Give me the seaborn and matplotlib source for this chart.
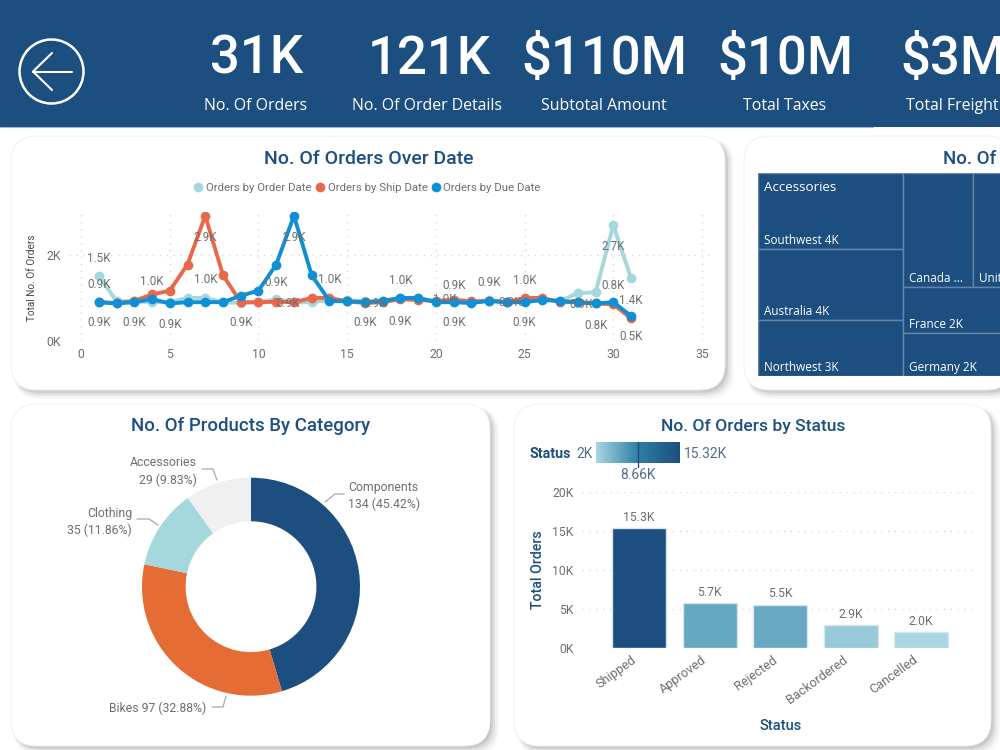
import numpy as np
import pandas as pd
import seaborn as sns
import matplotlib.pyplot as plt
from matplotlib.colors import LinearSegmentedColormap, Normalize
from matplotlib.lines import Line2D
from matplotlib.patches import FancyBboxPatch, Rectangle, Circle
from matplotlib.transforms import ScaledTranslation

NAVY = "#1c4f80"
GREY = "#6e6e6e"
W, H = 1000, 750

# kpi header
kpi_values = ["31K", "121K", "$110M", "$10M", "$3M"]
kpi_names = ["No. Of Orders", "No. Of Order Details", "Subtotal Amount", "Total Taxes", "Total Freight"]

# orders over date, in thousands
days = list(range(1, 32))
orders_by_order = [1.52, .92, .92, .90, .90, 1.00, 1.00, .90, .88, .90, .97, .90, .90, .95, .95, .92,
                   .92, 1.00, 1.00, .92, .90, .90, .95, .90, .92, .98, .93, 1.11, 1.13, 2.70, 1.46]
orders_by_ship = [.90, .88, .93, 1.08, 1.17, 1.78, 2.92, 1.53, .90, .90, .91, .90, 1.00, 1.00, .92, .88,
                  .90, .97, .95, .93, .96, .92, .93, .90, 1.00, 1.00, .90, .90, .87, .85, .52]
orders_by_due = [.90, .87, .90, .97, .87, .90, .90, .90, 1.05, 1.17, 1.78, 2.92, 1.53, .93, .92, .90,
                 .93, 1.00, 1.00, .90, .90, .88, .93, .90, .90, .95, .93, .90, .87, .90, .58]
series_names = ["Orders by Order Date", "Orders by Ship Date", "Orders by Due Date"]
series_colors = ["#a4d8dc", "#e8694a", "#0f8fd6"]

# data labels of the line chart
label_x = [1, 1, 1, 3, 4, 5, 7, 7, 9, 12, 11, 14, 11.67, 16, 16.6, 18, 18, 21, 20.5, 21, 23, 24.2, 25, 25,
           30, 30, 28.2, 29, 31, 31]
label_y = [1.93, 1.32, .42, .42, 1.38, .37, 2.42, 1.42, .42, 2.42, 1.37, 1.42, .88, .42, .88, 1.40, .46,
           1.30, .97, .42, 1.37, .90, 1.40, .42, 2.19, 1.28, .85, .35, .95, .09]
label_text = ["1.5K", "0.9K", "0.9K", "0.9K", "1.0K", "0.9K", "2.9K", "1.0K", "0.9K", "2.9K", "0.9K", "1.0K",
              "0.9K", "0.9K", "0.9K", "1.0K", "0.9K", "0.9K", "1.0K", "0.9K", "0.9K", "0.9K", "1.0K", "0.9K",
              "2.7K", "0.8K", "0.9K", "0.8K", "1.4K", "0.5K"]

# treemap, in thousands
tree_left_names = ["Southwest 4K", "Australia 4K", "Northwest 3K"]
tree_left_values = [3.88, 3.61, 2.85]
tree_top_names = ["Canada ...", "United Kingdom 3K"]
tree_top_values = [2.78, 2.70]
tree_low_names = ["France 2K", "Germany 2K"]
tree_low_values = [2.19, 2.08]

# products by category
categories = ["Components", "Bikes", "Clothing", "Accessories"]
products = [134, 97, 35, 29]
category_colors = [NAVY, "#e66c35", "#a5d8dc", "#f0f0f0"]

# orders by status, in thousands
statuses = ["Shipped", "Approved", "Rejected", "Backordered", "Cancelled"]
status_orders = [15.32, 5.7, 5.5, 2.9, 2.0]
status_labels = ["15.3K", "5.7K", "5.5K", "2.9K", "2.0K"]
status_mid = 8.66

sns.set_theme(style="white")
plt.rcParams["font.family"] = ["Roboto", "DejaVu Sans"]


def axes_px(fig, left, top, right, bottom):
    # axes from pixel edges, y counted from the top of the picture
    return fig.add_axes([left / W, 1 - bottom / H, (right - left) / W, (bottom - top) / H])


def card(ax, left, top, right, bottom):
    # soft shadow to the lower right, then the white card
    for grow, alpha in [(9, .04), (7, .06), (5, .09), (3, .13), (1, .18)]:
        ax.add_patch(FancyBboxPatch((left + 3, top + 3), right - left + grow - 3, bottom - top + grow - 3,
                                    boxstyle="round,pad=0,rounding_size=26", fc="#555555", ec="none", alpha=alpha))
    ax.add_patch(FancyBboxPatch((left, top), right - left, bottom - top,
                                boxstyle="round,pad=0,rounding_size=26", fc="white", ec="#f2f2f2", lw=.8))


def style_axes(ax):
    sns.despine(ax=ax, left=True, bottom=True)
    ax.tick_params(length=0, labelsize=8.8, labelcolor=GREY)
    ax.set_facecolor("none")


fig = plt.figure(figsize=(W / 100, H / 100), dpi=100, facecolor="white")

# page background in pixel coordinates
bg = fig.add_axes([0, 0, 1, 1])
bg.set_xlim(0, W)
bg.set_ylim(H, 0)
bg.axis("off")
bg.add_patch(Rectangle((0, 0), W, 127, fc=NAVY, ec="none"))
bg.plot([0, 873], [127.3, 127.3], color="#9db6d4", lw=.8)
card(bg, 11, 136, 725, 390)
card(bg, 744, 136, 1012, 390)
card(bg, 11, 404, 490, 746)
card(bg, 514, 404, 991, 746)

# back button
bg.add_patch(Circle((51.5, 71.5), 32, fc="none", ec="white", lw=1.8))
bg.plot([72, 33], [71.5, 71.5], color="white", lw=1.5)
bg.plot([52, 33, 52], [53, 71.5, 90], color="white", lw=1.5)

# kpi cards
kpi_x = [256, 429, 604, 785, 900]
name_x = [256, 427, 604, 785, 906]
for i in range(5):
    ha = "left" if i == 4 else "center"
    bg.text(kpi_x[i], 59, kpi_values[i], color="white", fontsize=38, weight="medium", ha=ha, va="center")
    bg.text(name_x[i], 106, kpi_names[i], color="white", fontsize=11.4, ha=ha, va="center",
            family=["Open Sans", "DejaVu Sans"])

# titles
bg.text(369, 158.5, "No. Of Orders Over Date", color=NAVY, fontsize=14, weight="medium", ha="center", va="center")
bg.text(943, 158.5, "No. Of Orders By Territory", color=NAVY, fontsize=13.4, weight="medium", ha="left", va="center")
bg.text(251, 426, "No. Of Products By Category", color=NAVY, fontsize=13.4, weight="medium", ha="center", va="center")
bg.text(753.5, 426, "No. Of Orders by Status", color=NAVY, fontsize=12.6, weight="medium", ha="center", va="center")

# line chart
line_df = pd.DataFrame({"day": days, series_names[0]: orders_by_order, series_names[1]: orders_by_ship,
                        series_names[2]: orders_by_due}).melt("day", var_name="series", value_name="orders")
ax_line = axes_px(fig, 69, 212.3, 710, 340.7)
sns.lineplot(data=line_df, x="day", y="orders", hue="series", hue_order=series_names, palette=series_colors,
             marker="o", markersize=7, markeredgewidth=0, linewidth=2.8, errorbar=None, legend=False, ax=ax_line)
ax_line.set_xlim(-.68, 35.45)
ax_line.set_ylim(0, 3)
ax_line.set_xticks(range(0, 36, 5))
ax_line.set_yticks([0, 2])
ax_line.set_yticklabels(["0K", "2K"])
ax_line.grid(True, color="#d8d8d8", lw=1, linestyle=(0, (1, 4)))
ax_line.set_axisbelow(True)
style_axes(ax_line)
ax_line.tick_params(axis="y", pad=6)
ax_line.tick_params(axis="x", pad=5)
ax_line.set_xlabel("")
ax_line.set_ylabel("Total No. Of Orders", fontsize=7.2, color="#444444")
ax_line.yaxis.set_label_coords((37 - 69) / 641, .49)
for x, y, t in zip(label_x, label_y, label_text):
    ax_line.text(x, y, t, fontsize=8.4, color=GREY, ha="center", va="center")
handles = [Line2D([], [], linestyle="none", marker="o", markersize=7, markeredgewidth=0, color=c) for c in series_colors]
ax_line.legend(handles, series_names, ncol=3, frameon=False, fontsize=8.2, labelcolor=GREY, handlelength=.9,
               handletextpad=.25, columnspacing=.25, loc="center",
               bbox_to_anchor=((367 - 69) / 641, (340.7 - 188) / 128.4))

# treemap, cell sizes come from the values
ax_tree = axes_px(fig, 758, 172.7, 1000, 376)
left_total = sum(tree_left_values)
top_total = sum(tree_top_values)
ax_tree.set_xlim(0, left_total * 242 / 145.3)
ax_tree.set_ylim(1, 0)
ax_tree.axis("off")
cell_edge = "#6685a8"
tree_font = dict(color="white", family=["Open Sans", "DejaVu Sans"], va="bottom", clip_on=False)
y0 = 0
for name, value in zip(tree_left_names, tree_left_values):
    h = value / left_total
    ax_tree.add_patch(Rectangle((0, y0), left_total, h, fc=NAVY, ec=cell_edge, lw=1))
    ax_tree.text(.42, y0 + h - .01, name, fontsize=8.5, **tree_font)
    y0 += h
col_w = sum(tree_top_values) + sum(tree_low_values)
top_h = top_total / col_w
x0 = left_total
for name, value in zip(tree_top_names, tree_top_values):
    w = value / top_h
    ax_tree.add_patch(Rectangle((x0, 0), w, top_h, fc=NAVY, ec=cell_edge, lw=1))
    ax_tree.text(x0 + .42, top_h - .01, name, fontsize=8.5, **tree_font)
    x0 += w
y0 = top_h
for name, value in zip(tree_low_names, tree_low_values):
    h = value / col_w
    ax_tree.add_patch(Rectangle((left_total, y0), col_w, h, fc=NAVY, ec=cell_edge, lw=1))
    ax_tree.text(left_total + .42, y0 + h - .01, name, fontsize=8.5, **tree_font)
    y0 += h
ax_tree.text(.42, .072, "Accessories", fontsize=9.6, color="white", family=["Open Sans", "DejaVu Sans"], va="center")

# donut
ax_pie = axes_px(fig, 251 - 130, 586.7 - 130, 251 + 130, 586.7 + 130)
ax_pie.pie(products, colors=category_colors, startangle=90, counterclock=False, radius=1,
           wedgeprops=dict(width=.4, edgecolor="none"))
ax_pie.set_xlim(-130 / 109, 130 / 109)
ax_pie.set_ylim(-130 / 109, 130 / 109)
pct = [100 * p / sum(products) for p in products]
pie_font = dict(fontsize=8.8, color=GREY, va="center")
bg.text(348, 487.5, categories[0], ha="left", **pie_font)
bg.text(348, 504.6, f"{products[0]} ({pct[0]:.2f}%)", ha="left", **pie_font)
bg.text(197, 463, categories[3], ha="right", **pie_font)
bg.text(197, 480, f"{products[3]} ({pct[3]:.2f}%)", ha="right", **pie_font)
bg.text(132, 513, categories[2], ha="right", **pie_font)
bg.text(132, 530, f"{products[2]} ({pct[2]:.2f}%)", ha="right", **pie_font)
bg.text(206, 708, f"{categories[1]} {products[1]} ({pct[1]:.2f}%)", ha="right", **pie_font)
for xs, ys in [([344, 335, 325], [494, 494, 502]), ([202, 213, 217], [469, 469, 480]),
               ([137, 149, 158], [519, 519, 525]), ([212, 223, 226], [707, 707, 696])]:
    bg.plot(xs, ys, color="#a8a8a8", lw=.9)

# status bars, colour scale shared with the gradient legend
status_cmap = LinearSegmentedColormap.from_list("status", ["#a8d6e4", "#2f7fa3", NAVY])
norm = Normalize(min(status_orders), max(status_orders))
ax_bar = axes_px(fig, 582, 492, 977, 647.7)
sns.barplot(x=statuses, y=status_orders, hue=statuses, palette=[status_cmap(norm(v)) for v in status_orders],
            width=.77, saturation=1, legend=False, edgecolor="#d5e6ee", linewidth=1, ax=ax_bar)
ax_bar.set_xlim(-.81, 4.79)
ax_bar.set_ylim(0, 20)
ax_bar.set_yticks([0, 5, 10, 15, 20])
ax_bar.set_yticklabels(["0K", "5K", "10K", "15K", "20K"])
ax_bar.yaxis.grid(True, color="#d8d8d8", lw=1, linestyle=(0, (1, 4)))
ax_bar.set_axisbelow(True)
style_axes(ax_bar)
ax_bar.tick_params(axis="y", pad=6)
ax_bar.set_xticks(range(5))
ax_bar.set_xticklabels(statuses, rotation=36, ha="right", rotation_mode="anchor", fontsize=9.2, color=GREY)
ax_bar.tick_params(axis="x", pad=4)
shift = ScaledTranslation(-6 / 72, 0, fig.dpi_scale_trans)
for tick_label in ax_bar.get_xticklabels():
    tick_label.set_transform(tick_label.get_transform() + shift)
ax_bar.set_ylabel("Total Orders", fontsize=10.2, color=NAVY, weight="medium")
ax_bar.yaxis.set_label_coords((545 - 582) / 395, .5)
ax_bar.set_xlabel("Status", fontsize=10.5, color=NAVY, weight="medium")
ax_bar.xaxis.set_label_coords((781 - 582) / 395, (647.7 - 719) / 155.7)
for i, (v, t) in enumerate(zip(status_orders, status_labels)):
    ax_bar.annotate(t, (i, v), xytext=(0, 8), textcoords="offset points", ha="center", va="center",
                    fontsize=8.8, color=GREY)

# gradient legend
bg.text(529, 453.5, "Status", color=NAVY, fontsize=10.2, weight="bold", ha="left", va="center")
bg.text(593, 453.5, "2K", color="#4f6f8f", fontsize=10, ha="right", va="center")
bg.text(684, 453.5, "15.32K", color="#4f6f8f", fontsize=10, ha="left", va="center")
bg.text(638, 475, "8.66K", color="#4f6f8f", fontsize=10, ha="center", va="center")
ax_grad = axes_px(fig, 596, 442, 680, 463)
ax_grad.imshow(np.linspace(0, 1, 200)[None, :], cmap=status_cmap, aspect="auto",
               extent=[min(status_orders), max(status_orders), 0, 1])
ax_grad.axis("off")
ax_grad.plot([status_mid, status_mid], [-.2, 1], color=NAVY, lw=1, clip_on=False)
ax_grad.set_ylim(0, 1)

fig.savefig("out.png", dpi=100)
